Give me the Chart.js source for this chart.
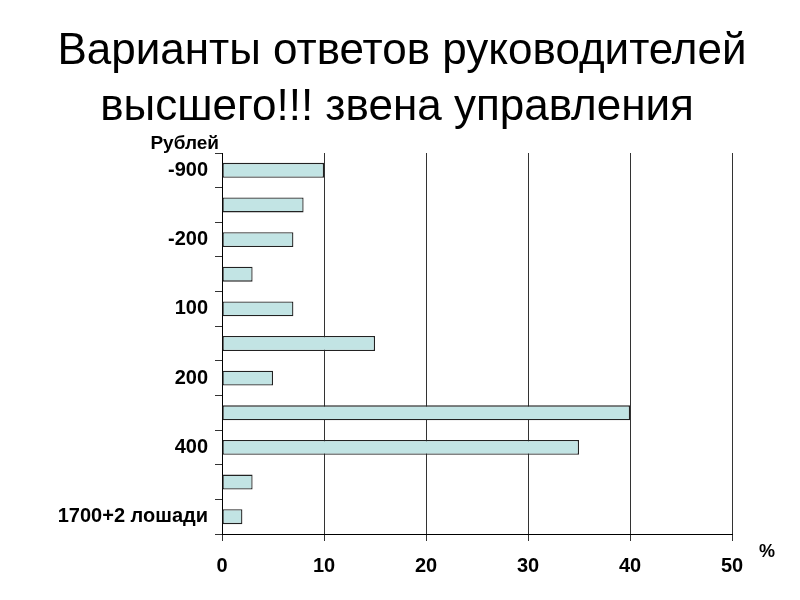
<!DOCTYPE html>
<html>
<head>
<meta charset="utf-8">
<script src="https://cdn.jsdelivr.net/npm/chart.js@4"></script>
<style>
  html, body { margin: 0; padding: 0; background: #fff; }
  #wrap { width: 800px; height: 600px; }
</style>
</head>
<body>
<div id="wrap"><canvas id="otvetyChart" width="800" height="600"></canvas></div>
<script>
const titleLines = ['Варианты ответов руководителей', 'высшего!!! звена управления'];
const categories = ['-900', '', '-200', '', '100', '', '200', '', '400', '', '1700+2 лошади'];
const percents = [10, 8, 7, 3, 7, 15, 5, 40, 35, 3, 2];
const xTicks = [0, 10, 20, 30, 40, 50];

// заголовок слайда и подписи "Рублей" и "%"
const slideText = {
  id: 'slideText',
  afterDraw(chart) {
    const c = chart.ctx;
    const a = chart.chartArea;
    c.save();
    c.fillStyle = '#000';
    c.textBaseline = 'alphabetic';
    c.textAlign = 'center';
    c.font = '44px "Liberation Sans", Arial, sans-serif';
    c.fillText(titleLines[0], 402, 64);
    c.fillText(titleLines[1], 397, 120);
    c.font = 'bold 19px "Liberation Sans", Arial, sans-serif';
    c.textAlign = 'right';
    c.fillText('Рублей', a.left - 3, a.top - 4);
    c.font = 'bold 18px "Liberation Sans", Arial, sans-serif';
    c.textAlign = 'left';
    c.fillText('%', a.right + 27, a.bottom + 23);
    c.restore();
  }
};

const ctx = document.getElementById('otvetyChart').getContext('2d');
const otvetyChart = new Chart(ctx, {
  type: 'bar',
  data: {
    labels: categories,
    datasets: [{
      data: percents,
      backgroundColor: '#c2e4e4',
      borderColor: '#222',
      borderWidth: 1.3,
      borderSkipped: false,
      barPercentage: 0.43,
      categoryPercentage: 1
    }]
  },
  options: {
    indexAxis: 'y',
    responsive: false,
    animation: false,
    layout: { padding: { left: 0, right: 68, top: 153, bottom: 0 } },
    plugins: {
      legend: { display: false },
      tooltip: { enabled: false },
      title: { display: false }
    },
    scales: {
      x: {
        min: 0,
        max: 50,
        afterBuildTicks: s => { s.ticks = xTicks.map(v => ({ value: v })); },
        afterFit: s => { s.height = 66; },
        grid: { color: '#333', lineWidth: 1, tickLength: 7 },
        border: { color: '#000', width: 1 },
        ticks: {
          color: '#000',
          padding: 13,
          font: { family: '"Liberation Sans", Arial, sans-serif', size: 20, weight: 'bold' }
        }
      },
      y: {
        afterFit: s => { s.width = 222; },
        grid: { drawOnChartArea: false, color: '#333', tickLength: 7, offset: true },
        border: { color: '#000', width: 1 },
        ticks: {
          color: '#000',
          padding: 7,
          autoSkip: false,
          font: { family: '"Liberation Sans", Arial, sans-serif', size: 20, weight: 'bold' }
        }
      }
    }
  },
  plugins: [slideText]
});
</script>
</body>
</html>
